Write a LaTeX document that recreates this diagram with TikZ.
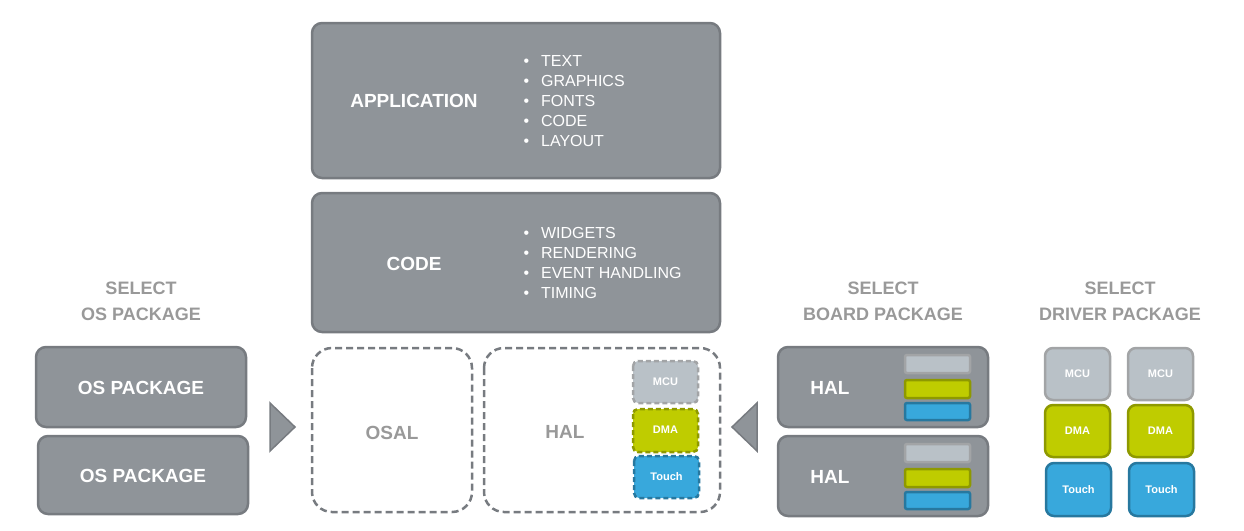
\documentclass[tikz,border=0pt]{standalone}
\usepackage{fontspec}
\setmainfont{Liberation Sans}
\definecolor{boxf}{HTML}{8F9499}
\definecolor{boxd}{HTML}{777B80}
\definecolor{lbl}{HTML}{999999}
\definecolor{mcuf}{HTML}{B9C1C7}
\definecolor{mcud}{HTML}{A2A4A6}
\definecolor{dmaf}{HTML}{BFCC00}
\definecolor{dmad}{HTML}{8E9900}
\definecolor{touf}{HTML}{38A8DC}
\definecolor{toud}{HTML}{27789F}
\begin{document}
\begin{tikzpicture}[x=1pt,y=-1pt,
 big/.style={draw=boxd,fill=boxf,line width=2.5pt,rounded corners=10pt},
 dashbox/.style={draw=boxd,line width=2.5pt,dash pattern=on 7pt off 4pt,rounded corners=20pt},
 wt/.style={text=white,font=\bfseries\fontsize{19}{19}\selectfont},
 bl/.style={text=white,font=\fontsize{16}{20}\selectfont,align=left,anchor=west},
 sel/.style={text=lbl,font=\bfseries\fontsize{18}{26}\selectfont,align=center},
 sm/.style={text=white,font=\bfseries\fontsize{11}{11}\selectfont},
 mcu/.style={draw=mcud,fill=mcuf,line width=2.5pt,rounded corners=5pt},
 dma/.style={draw=dmad,fill=dmaf,line width=2.5pt,rounded corners=5pt},
 tou/.style={draw=toud,fill=touf,line width=2.5pt,rounded corners=5pt},
 smdash/.style={dash pattern=on 5pt off 3pt},
 tri/.style={fill=boxf,draw=boxd,line width=1.5pt}]
\useasboundingbox (0,0) rectangle (1244,530);
% application
\draw[big] (312,23) rectangle (720,178);
\node[wt] (app) at (414,101) {APPLICATION};
\node[bl] (appl) at (520,101) {•\hspace{12pt}TEXT\\•\hspace{12pt}GRAPHICS\\•\hspace{12pt}FONTS\\•\hspace{12pt}CODE\\•\hspace{12pt}LAYOUT};
% code
\draw[big] (312,193) rectangle (720,332);
\node[wt] (code) at (414,264) {CODE};
\node[bl] (codel) at (520,263) {•\hspace{12pt}WIDGETS\\•\hspace{12pt}RENDERING\\•\hspace{12pt}EVENT HANDLING\\•\hspace{12pt}TIMING};
% OSAL / HAL
\draw[dashbox] (312,348) rectangle (472,512);
\node[text=lbl,font=\bfseries\fontsize{19}{19}\selectfont] (osal) at (392,433) {OSAL};
\draw[dashbox] (484,348) rectangle (720,512);
\node[text=lbl,font=\bfseries\fontsize{19}{19}\selectfont] (hal) at (565,432) {HAL};
\draw[mcu,smdash] (633,361) rectangle (698,403);
\node[sm] (m0) at (665.5,382) {MCU};
\draw[dma,smdash] (633,409) rectangle (698,452);
\node[sm] (d0) at (665.5,430) {DMA};
\draw[tou,smdash] (634,456) rectangle (699,498);
\node[sm] (t0) at (666.5,477) {Touch};
% triangles
\draw[tri] (270,403) -- (270,451) -- (295,427) -- cycle;
\draw[tri] (757,403) -- (757,451) -- (732,427) -- cycle;
% OS packages
\node[sel] (selos) at (141,301) {SELECT\\OS PACKAGE};
\draw[big] (36,347) rectangle (246,427);
\node[wt] (os1) at (141,388) {OS PACKAGE};
\draw[big] (38,436) rectangle (248,514);
\node[wt] (os2) at (143,476) {OS PACKAGE};
% board packages
\node[sel] (selb) at (883,301) {SELECT\\BOARD PACKAGE};
\foreach \y/\n in {347/1,436/2}{
 \draw[big] (778,\y) rectangle (988,\y+80);
 \node[wt] (hal\n) at (830,\y+41) {HAL};
 \draw[mcu,rounded corners=2pt] (905,\y+8) rectangle (970,\y+26);
 \draw[dma,rounded corners=2pt] (905,\y+33) rectangle (970,\y+51);
 \draw[tou,rounded corners=2pt] (905,\y+56) rectangle (970,\y+73);
}
% driver packages
\node[sel] (seld) at (1120,301) {SELECT\\DRIVER PACKAGE};
\foreach \x/\n in {1045/a,1128/b}{
 \draw[mcu,rounded corners=8pt] (\x,348) rectangle (\x+65,400);
 \node[sm] (m\n) at (\x+32.5,374) {MCU};
 \draw[dma,rounded corners=8pt] (\x,405) rectangle (\x+65,457);
 \node[sm] (d\n) at (\x+32.5,431) {DMA};
 \draw[tou,rounded corners=8pt] (\x+1,463) rectangle (\x+66,516);
 \node[sm] (t\n) at (\x+33.5,490) {Touch};
}
\end{tikzpicture}
\end{document}
